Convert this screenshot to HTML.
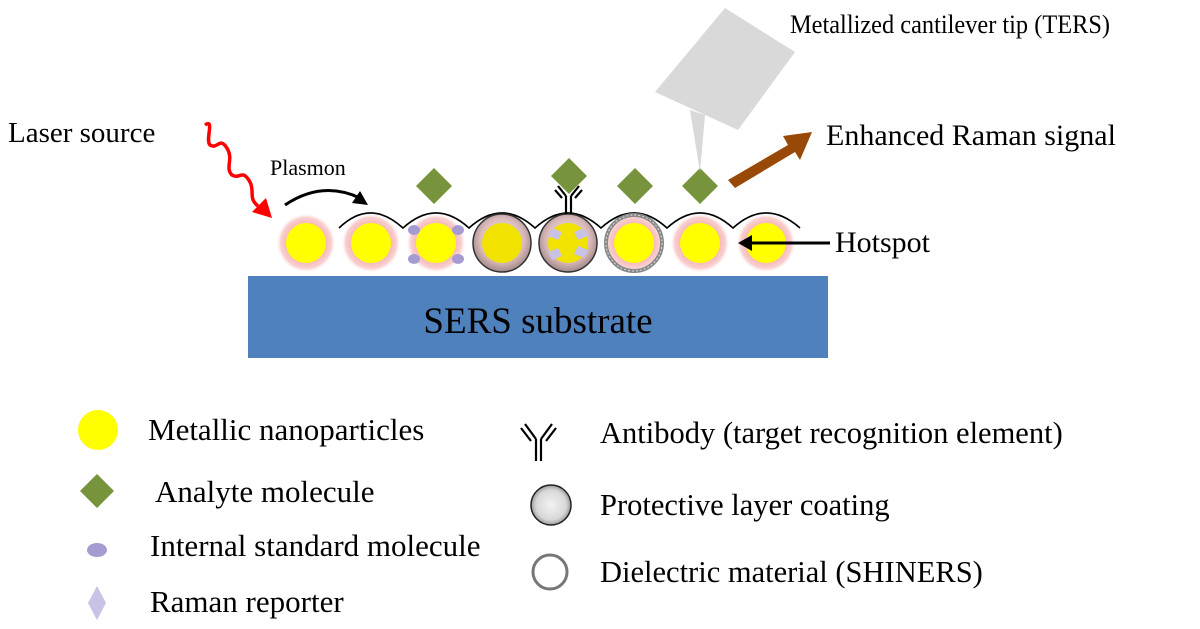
<!DOCTYPE html>
<html><head><meta charset="utf-8"><style>
html,body{margin:0;padding:0;background:#fff;}
svg{display:block;}
text{font-family:"Liberation Serif",serif;fill:#000;}
</style></head><body>
<svg width="1200" height="629" viewBox="0 0 1200 629" xmlns="http://www.w3.org/2000/svg">
<defs>
<radialGradient id="glow" cx="50%" cy="50%" r="50%">
<stop offset="0.6" stop-color="#f6b3b3"/><stop offset="0.85" stop-color="#f9d0d0"/><stop offset="1" stop-color="#fff" stop-opacity="0"/>
</radialGradient>
<radialGradient id="coat" cx="50%" cy="45%" r="55%">
<stop offset="0" stop-color="#f4eeee"/><stop offset="0.7" stop-color="#d9b8b8"/><stop offset="1" stop-color="#a08888"/>
</radialGradient>
<radialGradient id="gray" cx="50%" cy="50%" r="50%">
<stop offset="0" stop-color="#f2f2f2"/><stop offset="0.75" stop-color="#d8d8d8"/><stop offset="1" stop-color="#9a9a9a"/>
</radialGradient>
</defs>

<rect x="248" y="276" width="580" height="82" fill="#4f81bd"/>
<text x="538" y="333" font-size="37" text-anchor="middle">SERS substrate</text>

<path d="M339 228 Q370 198 403 228 Q436 198 469 228 Q502 198 535 228 Q568 198 601 228 Q634 198 667 228 Q700 198 733 228 Q766 198 800 228" fill="none" stroke="#000" stroke-width="1.6"/>

<g>
<circle cx="306" cy="243" r="30" fill="url(#glow)"/><circle cx="306" cy="243" r="20" fill="#ffff00"/>
<circle cx="371" cy="243" r="30" fill="url(#glow)"/><circle cx="371" cy="243" r="20" fill="#ffff00"/>
<circle cx="436" cy="243" r="30" fill="url(#glow)"/><circle cx="436" cy="243" r="20" fill="#ffff00"/>
<ellipse cx="414" cy="230" rx="6" ry="5" fill="#a69bd1"/><ellipse cx="458" cy="230" rx="6" ry="5" fill="#a69bd1"/>
<ellipse cx="414" cy="259" rx="6" ry="5" fill="#a69bd1"/><ellipse cx="458" cy="259" rx="6" ry="5" fill="#a69bd1"/>
<circle cx="502" cy="243" r="29" fill="url(#coat)" stroke="#333" stroke-width="1.5"/><circle cx="502" cy="243" r="20" fill="#f2e200"/>
<circle cx="568" cy="243" r="29" fill="url(#coat)" stroke="#333" stroke-width="1.5"/><circle cx="568" cy="243" r="20" fill="#f2e200"/>
<polygon points="552,228 562,232 558,240 548,236" fill="#c8c3e6"/>
<polygon points="584,228 588,236 578,240 574,232" fill="#c8c3e6"/>
<polygon points="548,252 558,248 562,256 552,260" fill="#c8c3e6"/>
<polygon points="574,254 578,246 588,250 584,258" fill="#c8c3e6"/>
<circle cx="634" cy="243" r="30" fill="url(#glow)"/>
<circle cx="634" cy="243" r="28" fill="none" stroke="#888" stroke-width="4"/>
<circle cx="634" cy="243" r="28" fill="none" stroke="#ddd" stroke-width="1" stroke-dasharray="2 2"/>
<circle cx="634" cy="243" r="20" fill="#ffff00"/>
<circle cx="700" cy="243" r="30" fill="url(#glow)"/><circle cx="700" cy="243" r="20" fill="#ffff00"/>
<circle cx="766" cy="243" r="30" fill="url(#glow)"/><circle cx="766" cy="243" r="20" fill="#ffff00"/>
</g>

<g stroke="#000" stroke-width="2.2" fill="none">
<line x1="566" y1="214" x2="566" y2="196"/><line x1="571" y1="214" x2="571" y2="196"/>
<path d="M566 196 L558 186"/><path d="M571 196 L579 186"/>
<path d="M562 198 L555 190"/><path d="M575 198 L582 190"/>
</g>

<g fill="#77933c">
<polygon points="434,168 452,186 434,204 416,186"/>
<polygon points="569,158 587,176 569,194 551,176"/>
<polygon points="635,168 653,186 635,204 617,186"/>
<polygon points="700,168 718,186 700,204 682,186"/>
</g>

<polygon points="725,8 795,52 738,130 655,92" fill="#d9d9d9"/>
<polygon points="690,110 705,115 700,172" fill="#d9d9d9"/>
<text x="790" y="33" font-size="26" textLength="320" lengthAdjust="spacingAndGlyphs">Metallized cantilever tip (TERS)</text>

<polygon points="728,180 788,145 783,136 812,132 800,160 795,152 735,188" fill="#984807"/>
<text x="826" y="145" font-size="30">Enhanced Raman signal</text>

<line x1="830" y1="243" x2="748" y2="243" stroke="#000" stroke-width="3"/>
<polygon points="738,243 752,235 752,251" fill="#000"/>
<text x="835" y="252" font-size="30">Hotspot</text>

<text x="8" y="142" font-size="29">Laser source</text>
<path d="M205 125 C215 118 205 140 210 145 C218 150 220 135 228 150 C233 160 225 168 232 175 C240 180 242 168 250 182 C255 192 248 198 258 206" fill="none" stroke="#ff0000" stroke-width="3.5"/>
<polygon points="272,218 252,212 266,198" fill="#ff0000"/>

<text x="270" y="175" font-size="22">Plasmon</text>
<path d="M285 205 Q322 180 360 198" fill="none" stroke="#000" stroke-width="3"/>
<polygon points="368,205 352,203 360,191" fill="#000"/>

<circle cx="98" cy="430" r="20" fill="#ffff00"/>
<text x="148" y="440" font-size="31">Metallic nanoparticles</text>
<polygon points="97,474 114,491 97,508 80,491" fill="#77933c"/>
<text x="155" y="502" font-size="31">Analyte molecule</text>
<ellipse cx="97" cy="550" rx="10" ry="7" fill="#a69bd1"/>
<text x="150" y="556" font-size="31">Internal standard molecule</text>
<polygon points="97,586 106,603 97,620 88,603" fill="#c8c3e6"/>
<text x="150" y="612" font-size="31">Raman reporter</text>

<g stroke="#000" stroke-width="2.2" fill="none">
<line x1="536" y1="461" x2="536" y2="439"/><line x1="541" y1="461" x2="541" y2="439"/>
<path d="M536 439 L525 424"/><path d="M541 439 L552 424"/>
<path d="M531 441 L521 428"/><path d="M546 441 L556 428"/>
</g>
<text x="600" y="443" font-size="30.5">Antibody (target recognition element)</text>
<circle cx="551" cy="505" r="20" fill="url(#gray)" stroke="#222" stroke-width="1.5"/>
<text x="600" y="515" font-size="30.5">Protective layer coating</text>
<circle cx="550" cy="572" r="17" fill="none" stroke="#777" stroke-width="3"/>
<text x="600" y="582" font-size="30.5">Dielectric material (SHINERS)</text>
</svg>
</body></html>
